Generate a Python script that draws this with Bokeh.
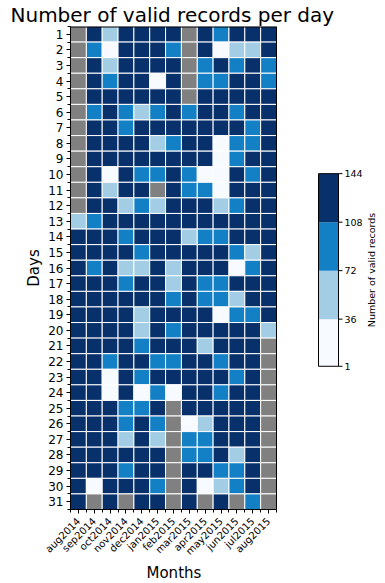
import math
from bokeh.plotting import figure
from bokeh.models import ColumnDataSource, LinearColorMapper, FixedTicker, Range1d, Title
from bokeh.transform import transform
from bokeh.core.properties import value
from bokeh.embed import file_html
from bokeh.resources import INLINE

nan = float("nan")

months = ["aug2014", "sep2014", "oct2014", "nov2014", "dec2014", "jan2015", "feb2015",
          "mar2015", "apr2015", "may2015", "jun2015", "jul2015", "aug2015"]
days = list(range(1, 32))

# number of valid records per day (days 1..31), one list per month (grey = missing)
aug2014 = [nan, nan, nan, nan, nan, nan, nan, nan, nan, nan, nan, nan, 60, 144, 144, 144,
           144, 144, 144, 144, 144, 144, 144, 144, 144, 144, 144, 144, 144, 144, 144]
sep2014 = [144, 96, 144, 144, 144, 96, 144, 144, 144, 144, 144, 144, 96, 144, 144, 96,
           144, 144, 144, 144, 144, 144, 144, 144, 144, 144, 144, 144, 144, 20, nan]
oct2014 = [60, 20, 60, 96, 144, 144, 144, 144, 144, 20, 60, 144, 144, 144, 144, 144,
           144, 144, 144, 144, 144, 96, 20, 20, 144, 144, 144, 144, 144, 144, 144]
nov2014 = [144, 144, 144, 144, 144, 96, 96, 144, 144, 144, 144, 60, 144, 96, 144, 60,
           96, 144, 144, 144, 144, 144, 144, 144, 96, 96, 60, 144, 96, 144, nan]
dec2014 = [144, 144, 144, 144, 144, 60, 144, 144, 144, 96, 144, 96, 144, 144, 96, 60,
           144, 144, 60, 60, 96, 144, 96, 20, 96, 144, 144, 144, 144, 144, 144]
jan2015 = [144, 144, 144, 20, 144, 96, 144, 60, 144, 96, nan, 60, 144, 144, 144, 144,
           144, 144, 144, 144, 144, 96, 144, 96, 144, 96, 60, 144, 144, 96, 144]
feb2015 = [144, 96, 144, 144, 144, 144, 144, 96, 144, 144, 144, 144, 144, 144, 144, 60,
           60, 96, 144, 96, 144, 96, 144, 20, nan, nan, nan, nan, nan, nan, nan]
mar2015 = [nan, nan, nan, nan, nan, 96, 144, 144, 144, 96, 96, 144, 144, 60, 144, 144,
           144, 144, 144, 144, 144, 144, 144, 144, 144, 20, 96, 96, 144, 144, 144]
apr2015 = [144, 144, 96, 96, 144, 144, 144, 144, 144, 20, 96, 144, 144, 96, 144, 144,
           96, 96, 144, 144, 60, 144, 144, 144, 144, 60, 96, 96, 144, 20, nan]
may2015 = [96, 20, 144, 96, 144, 144, 144, 20, 20, 20, 20, 60, 144, 96, 144, 144,
           96, 96, 20, 144, 144, 96, 144, 96, 144, 144, 144, 144, 96, 60, 144]
jun2015 = [144, 60, 96, 144, 144, 96, 144, 96, 96, 144, 144, 96, 144, 144, 96, 20,
           144, 60, 96, 144, 144, 144, 96, 144, 144, 144, 144, 60, 96, 96, nan]
jul2015 = [144, 60, 144, 144, 144, 144, 96, 96, 144, 96, 144, 144, 144, 144, 60, 96,
           144, 144, 96, 144, 144, 144, 144, 144, 144, 144, 144, 144, 144, 144, 96]
aug2015 = [144, 144, 96, 96, 144, 144, 144, 144, 144, 144, 144, 144, 144, 144, 144, 144,
           144, 144, 144, 60, nan, nan, nan, nan, nan, nan, nan, nan, nan, nan, nan]

series = [aug2014, sep2014, oct2014, nov2014, dec2014, jan2015, feb2015,
          mar2015, apr2015, may2015, jun2015, jul2015, aug2015]

# colour bins of the colour bar
bin_edges = [1, 36, 72, 108, 144]
bin_labels = ["1", "36", "72", "108", "144"]
palette = ["#f7fbff", "#a3cce5", "#1380c5", "#08306b"]
cbar_label = "Number of valid records"
title_text = "Number of valid records per day"
x_label = "Months"
y_label = "Days"

xs, ys, vals = [], [], []
for i, col in enumerate(series):
    for j, v in enumerate(col):
        xs.append(i)
        ys.append(days[j])
        vals.append(v)
src = ColumnDataSource(data=dict(x=xs, y=ys, v=vals))

mapper = LinearColorMapper(palette=palette, low=bin_edges[0], high=bin_edges[-1],
                           nan_color="#808080")

FONT = "DejaVu Sans"
W, H = 385, 583
# layout (pixels on the page)
F_LEFT, F_RIGHT, F_TOP, F_BOTTOM = 70, 385, 24, 513     # plotting frame
HM_RIGHT = 276                                           # right edge of the heatmap
BAR_L, BAR_R, BAR_T, BAR_B = 318, 338, 173, 368          # colour bar box
LABEL_X = 371                                            # colour bar label centre
XLABEL_LEFT = 146                                        # left end of "Months"

n_m, n_d = len(months), len(days)
fw = F_RIGHT - F_LEFT
fh = F_BOTTOM - F_TOP
x_end = -0.5 + n_m * fw / (HM_RIGHT - F_LEFT)

p = figure(width=W, height=H, x_range=Range1d(-0.5, x_end),
           y_range=Range1d(n_d + 0.5, 0.5),
           output_backend="svg", toolbar_location=None,
           min_border_left=F_LEFT, min_border_right=W - F_RIGHT, min_border_top=F_TOP,
           min_border_bottom=H - F_BOTTOM)
p.grid.visible = False
p.outline_line_color = None
p.background_fill_color = "white"
p.border_fill_color = "white"

# extra scales for the colour bar (pixel box -> data units)
bar_px_w = BAR_R - BAR_L
cbx_start = -(BAR_L - F_LEFT) / bar_px_w
per_px = (bin_edges[-1] - bin_edges[0]) / (BAR_B - BAR_T)
p.extra_x_ranges = {"cbx": Range1d(cbx_start, cbx_start + fw / bar_px_w)}
p.extra_y_ranges = {"cb": Range1d(bin_edges[0] - (F_BOTTOM - BAR_B) * per_px,
                                  bin_edges[-1] + (BAR_T - F_TOP) * per_px)}

# heatmap cells
p.rect(x="x", y="y", width=1, height=1, source=src,
       fill_color=transform("v", mapper), line_color="white", line_width=1)
# top and right spines of the heatmap (left / bottom come from the axes)
p.segment(x0=[-0.5, n_m - 0.5], y0=[0.5, 0.5], x1=[n_m - 0.5, n_m - 0.5],
          y1=[0.5, n_d + 0.5], line_color="black", line_width=[2, 1])

p.title.text = title_text
p.title.text_font = FONT
p.title.text_font_size = "20px"
p.title.text_font_style = "normal"
p.title.text_color = "black"
p.title.align = "left"
p.title.offset = -60
p.title.standoff = 0

p.xaxis.ticker = FixedTicker(ticks=list(range(n_m)),
                             minor_ticks=[i - 0.5 for i in range(n_m + 1)])
p.xaxis.bounds = (-0.5, n_m - 0.5)
p.xaxis.major_label_overrides = {i: m for i, m in enumerate(months)}
p.xaxis.major_label_orientation = math.pi / 4
p.yaxis.ticker = FixedTicker(ticks=days, minor_ticks=[d - 0.5 for d in range(1, n_d + 2)])
p.yaxis.bounds = (0.5, n_d + 0.5)

for ax in (p.xaxis[0], p.yaxis[0]):
    ax.axis_line_color = "black"
    ax.major_tick_out = 4
    ax.major_tick_in = 0
    ax.minor_tick_out = 3
    ax.minor_tick_in = 0
    ax.major_tick_line_color = "black"
    ax.minor_tick_line_color = "black"
    ax.major_label_text_font = FONT
    ax.major_label_text_color = "black"
    ax.axis_label_text_font = FONT
    ax.axis_label_text_font_style = "normal"
    ax.axis_label_text_font_size = "15px"
    ax.axis_label_text_color = "black"

p.xaxis.major_label_standoff = 6
p.xaxis.major_label_text_font_size = "10px"
p.yaxis.axis_label = y_label
p.yaxis.major_label_standoff = 3
p.yaxis.axis_label_standoff = 2
p.yaxis.major_label_text_font_size = "12px"

# x-axis label, centred under the heatmap columns (not the whole frame)
p.add_layout(Title(text=x_label, align="left", offset=XLABEL_LEFT - F_LEFT, standoff=0,
                   vertical_align="top",
                   text_font=FONT, text_font_size="15px", text_font_style="normal",
                   text_color="black"), "below")

# colour bar
p.quad(left=0, right=1, bottom=bin_edges[:-1], top=bin_edges[1:], fill_color=palette,
       line_color=None, x_range_name="cbx", y_range_name="cb")
p.quad(left=0, right=1, bottom=bin_edges[0], top=bin_edges[-1], fill_color=None,
       line_color="black", line_width=1, x_range_name="cbx", y_range_name="cb")
tick_len = 4 / bar_px_w
p.segment(x0=1, y0=bin_edges, x1=1 + tick_len, y1=bin_edges, line_color="black",
          line_width=1, x_range_name="cbx", y_range_name="cb")
p.text(x=1 + tick_len + 2 / bar_px_w, y=bin_edges, text=bin_labels,
       text_align="left", text_baseline="middle", text_font=value(FONT),
       text_font_size="9.5px", text_color="black", x_range_name="cbx", y_range_name="cb")
p.text(x=[(LABEL_X - BAR_L) / bar_px_w], y=[(bin_edges[0] + bin_edges[-1]) / 2],
       text=[cbar_label], angle=math.pi / 2, text_align="center", text_baseline="middle",
       text_font=value(FONT), text_font_size="9.5px", text_color="black",
       x_range_name="cbx", y_range_name="cb")

open("out.html", "w").write(file_html(p, INLINE))
